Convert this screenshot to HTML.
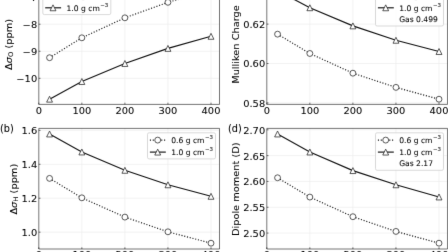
<!DOCTYPE html>
<html><head><meta charset="utf-8"><style>
html,body{margin:0;padding:0;background:#fff;overflow:hidden;width:448px;height:252px}
svg{display:block}
</style></head><body>
<svg width="448" height="252" viewBox="0 0 448 252" font-family="'DejaVu Sans','Liberation Sans',sans-serif">
<style>text{stroke:#000;stroke-width:0.05px}</style>
<rect width="448" height="252" fill="#fff"/>
<filter id="bl" x="-4" y="-4" width="456" height="260" filterUnits="userSpaceOnUse" color-interpolation-filters="sRGB"><feConvolveMatrix order="3" kernelMatrix="0 0.07 0 0.07 0.72 0.07 0 0.07 0" edgeMode="duplicate" preserveAlpha="true"/></filter>
<g filter="url(#bl)">
<rect x="-20" y="-20" width="488" height="292" fill="#fff"/>
<clipPath id="c0"><rect x="38.8" y="-16.2" width="180.7" height="120.6"/></clipPath>
<path d="M81.85 -16.2V104.4M124.9 -16.2V104.4M167.95 -16.2V104.4M211 -16.2V104.4M38.8 78.32H219.5M38.8 51.27H219.5M38.8 24.22H219.5M38.8 -2.83H219.5" stroke="#ececec" stroke-width="0.7" fill="none"/>
<g clip-path="url(#c0)">
<polyline points="49.56,57.71 81.85,37.8 124.9,17.81 167.95,2.31 211,-10.13" fill="none" stroke="#111" stroke-width="1.15" stroke-dasharray="1.1 1.73"/>
<polyline points="49.56,99.2 81.85,81.51 124.9,63.5 167.95,48.4 211,36.31" fill="none" stroke="#111" stroke-width="1.15"/>
<circle cx="49.56" cy="57.71" r="2.95" fill="#fff" stroke="#222" stroke-width="0.75"/>
<circle cx="81.85" cy="37.8" r="2.95" fill="#fff" stroke="#222" stroke-width="0.75"/>
<circle cx="124.9" cy="17.81" r="2.95" fill="#fff" stroke="#222" stroke-width="0.75"/>
<circle cx="167.95" cy="2.31" r="2.95" fill="#fff" stroke="#222" stroke-width="0.75"/>
<circle cx="211" cy="-10.13" r="2.95" fill="#fff" stroke="#222" stroke-width="0.75"/>
<path d="M49.56 96.25L46.61 102.15L52.51 102.15Z" fill="#fff" stroke="#222" stroke-width="0.75"/>
<path d="M81.85 78.56L78.9 84.46L84.8 84.46Z" fill="#fff" stroke="#222" stroke-width="0.75"/>
<path d="M124.9 60.55L121.95 66.45L127.85 66.45Z" fill="#fff" stroke="#222" stroke-width="0.75"/>
<path d="M167.95 45.45L165 51.35L170.9 51.35Z" fill="#fff" stroke="#222" stroke-width="0.75"/>
<path d="M211 33.36L208.05 39.26L213.95 39.26Z" fill="#fff" stroke="#222" stroke-width="0.75"/>
</g>
<path d="M38.8 -16.2H219.5V104.4H38.8ZM38.8 104.4v-1.7M81.85 104.4v-1.7M124.9 104.4v-1.7M167.95 104.4v-1.7M211 104.4v-1.7M38.8 78.32h1.7M38.8 51.27h1.7M38.8 24.22h1.7M38.8 -2.83h1.7" stroke="#000" stroke-width="0.55" fill="none"/>
<text transform="translate(38.8 114.4) scale(1 0.89)" font-size="9.9" text-anchor="middle" fill="#000">0</text>
<text transform="translate(81.85 114.4) scale(1 0.89)" font-size="9.9" text-anchor="middle" fill="#000">100</text>
<text transform="translate(124.9 114.4) scale(1 0.89)" font-size="9.9" text-anchor="middle" fill="#000">200</text>
<text transform="translate(167.95 114.4) scale(1 0.89)" font-size="9.9" text-anchor="middle" fill="#000">300</text>
<text transform="translate(211 114.4) scale(1 0.89)" font-size="9.9" text-anchor="middle" fill="#000">400</text>
<text transform="translate(37.2 82.22) scale(1 0.89)" font-size="9.9" text-anchor="end" fill="#000">−10</text>
<text transform="translate(37.2 55.17) scale(1 0.89)" font-size="9.9" text-anchor="end" fill="#000">−9</text>
<text transform="translate(37.2 28.12) scale(1 0.89)" font-size="9.9" text-anchor="end" fill="#000">−8</text>
<text transform="translate(37.2 1.07) scale(1 0.89)" font-size="9.9" text-anchor="end" fill="#000">−7</text>
<text transform="translate(12 44.5) rotate(-90) scale(1 0.93)" font-size="9.8" text-anchor="middle" fill="#000">Δ<tspan font-style="italic">σ</tspan><tspan font-size="6.86" dy="1.6">O</tspan><tspan dy="-1.6"> (ppm)</tspan></text>
<text transform="translate(-0 -12.6)" font-size="9.7" text-anchor="start" fill="#000">(a)</text>
<rect x="42.8" y="-12.4" width="68" height="27" rx="1.6" fill="#fff" fill-opacity="0.8" stroke="#cfcfcf" stroke-width="0.8"/>
<path d="M45.2 -5.1H61.1" stroke="#111" stroke-width="1.15" stroke-dasharray="1.1 1.73"/>
<circle cx="53" cy="-5.1" r="2.95" fill="#fff" stroke="#222" stroke-width="0.75"/>
<text transform="translate(66.5 -2.33)" font-size="7.6" text-anchor="start" fill="#000">0.6 g cm<tspan font-size="5.47" dx="0.4" dy="-3.4">−3</tspan></text>
<path d="M45.2 7.8H61.1" stroke="#111" stroke-width="1.15"/>
<path d="M53 4.85L50.05 10.75L55.95 10.75Z" fill="#fff" stroke="#222" stroke-width="0.75"/>
<text transform="translate(66.5 10.57)" font-size="7.6" text-anchor="start" fill="#000">1.0 g cm<tspan font-size="5.47" dx="0.4" dy="-3.4">−3</tspan></text>
<clipPath id="c1"><rect x="266.8" y="-16.2" width="180.7" height="120.6"/></clipPath>
<path d="M309.85 -16.2V104.4M352.9 -16.2V104.4M395.95 -16.2V104.4M439 -16.2V104.4M266.8 102.95H447.5M266.8 63.53H447.5M266.8 24.11H447.5M266.8 -15.31H447.5" stroke="#ececec" stroke-width="0.7" fill="none"/>
<g clip-path="url(#c1)">
<polyline points="277.56,34.16 309.85,53.48 352.9,73.19 395.95,87.38 439,99.21" fill="none" stroke="#111" stroke-width="1.15" stroke-dasharray="1.1 1.73"/>
<polyline points="277.56,-9.4 309.85,7.75 352.9,25.88 395.95,40.27 439,51.51" fill="none" stroke="#111" stroke-width="1.15"/>
<circle cx="277.56" cy="34.16" r="2.95" fill="#fff" stroke="#222" stroke-width="0.75"/>
<circle cx="309.85" cy="53.48" r="2.95" fill="#fff" stroke="#222" stroke-width="0.75"/>
<circle cx="352.9" cy="73.19" r="2.95" fill="#fff" stroke="#222" stroke-width="0.75"/>
<circle cx="395.95" cy="87.38" r="2.95" fill="#fff" stroke="#222" stroke-width="0.75"/>
<circle cx="439" cy="99.21" r="2.95" fill="#fff" stroke="#222" stroke-width="0.75"/>
<path d="M277.56 -12.35L274.61 -6.45L280.51 -6.45Z" fill="#fff" stroke="#222" stroke-width="0.75"/>
<path d="M309.85 4.8L306.9 10.7L312.8 10.7Z" fill="#fff" stroke="#222" stroke-width="0.75"/>
<path d="M352.9 22.93L349.95 28.83L355.85 28.83Z" fill="#fff" stroke="#222" stroke-width="0.75"/>
<path d="M395.95 37.32L393 43.22L398.9 43.22Z" fill="#fff" stroke="#222" stroke-width="0.75"/>
<path d="M439 48.56L436.05 54.46L441.95 54.46Z" fill="#fff" stroke="#222" stroke-width="0.75"/>
</g>
<path d="M266.8 -16.2H447.5V104.4H266.8ZM266.8 104.4v-1.7M309.85 104.4v-1.7M352.9 104.4v-1.7M395.95 104.4v-1.7M439 104.4v-1.7M266.8 102.95h1.7M266.8 63.53h1.7M266.8 24.11h1.7M266.8 -15.31h1.7" stroke="#000" stroke-width="0.55" fill="none"/>
<text transform="translate(266.8 114.4) scale(1 0.89)" font-size="9.9" text-anchor="middle" fill="#000">0</text>
<text transform="translate(309.85 114.4) scale(1 0.89)" font-size="9.9" text-anchor="middle" fill="#000">100</text>
<text transform="translate(352.9 114.4) scale(1 0.89)" font-size="9.9" text-anchor="middle" fill="#000">200</text>
<text transform="translate(395.95 114.4) scale(1 0.89)" font-size="9.9" text-anchor="middle" fill="#000">300</text>
<text transform="translate(439 114.4) scale(1 0.89)" font-size="9.9" text-anchor="middle" fill="#000">400</text>
<text transform="translate(265.2 106.85) scale(1 0.89)" font-size="9.9" text-anchor="end" fill="#000">0.58</text>
<text transform="translate(265.2 67.43) scale(1 0.89)" font-size="9.9" text-anchor="end" fill="#000">0.60</text>
<text transform="translate(265.2 28.01) scale(1 0.89)" font-size="9.9" text-anchor="end" fill="#000">0.62</text>
<text transform="translate(265.2 -11.41) scale(1 0.89)" font-size="9.9" text-anchor="end" fill="#000">0.64</text>
<text transform="translate(239.3 44.5) rotate(-90) scale(1 0.93)" font-size="9.8" text-anchor="middle" fill="#000">Mulliken Charge</text>
<text transform="translate(228 -12.6)" font-size="9.7" text-anchor="start" fill="#000">(c)</text>
<rect x="375.5" y="-12.4" width="68" height="38.4" rx="1.6" fill="#fff" fill-opacity="0.8" stroke="#cfcfcf" stroke-width="0.8"/>
<path d="M377.9 -5.1H393.8" stroke="#111" stroke-width="1.15" stroke-dasharray="1.1 1.73"/>
<circle cx="385.7" cy="-5.1" r="2.95" fill="#fff" stroke="#222" stroke-width="0.75"/>
<text transform="translate(399.2 -2.33)" font-size="7.6" text-anchor="start" fill="#000">0.6 g cm<tspan font-size="5.47" dx="0.4" dy="-3.4">−3</tspan></text>
<path d="M377.9 7.8H393.8" stroke="#111" stroke-width="1.15"/>
<path d="M385.7 4.85L382.75 10.75L388.65 10.75Z" fill="#fff" stroke="#222" stroke-width="0.75"/>
<text transform="translate(399.2 10.57)" font-size="7.6" text-anchor="start" fill="#000">1.0 g cm<tspan font-size="5.47" dx="0.4" dy="-3.4">−3</tspan></text>
<text transform="translate(399.2 21.77)" font-size="7.6" text-anchor="start" fill="#000">Gas 0.499</text>
<clipPath id="c2"><rect x="38.8" y="128.4" width="180.7" height="120.6"/></clipPath>
<path d="M81.85 128.4V249M124.9 128.4V249M167.95 128.4V249M211 128.4V249M38.8 232.17H219.5M38.8 198.23H219.5M38.8 164.29H219.5M38.8 130.35H219.5" stroke="#ececec" stroke-width="0.7" fill="none"/>
<g clip-path="url(#c2)">
<polyline points="49.56,178.39 81.85,197.81 124.9,217.1 167.95,231.8 211,243.2" fill="none" stroke="#111" stroke-width="1.15" stroke-dasharray="1.1 1.73"/>
<polyline points="49.56,134 81.85,152 124.9,170.3 167.95,184.81 211,196.3" fill="none" stroke="#111" stroke-width="1.15"/>
<circle cx="49.56" cy="178.39" r="2.95" fill="#fff" stroke="#222" stroke-width="0.75"/>
<circle cx="81.85" cy="197.81" r="2.95" fill="#fff" stroke="#222" stroke-width="0.75"/>
<circle cx="124.9" cy="217.1" r="2.95" fill="#fff" stroke="#222" stroke-width="0.75"/>
<circle cx="167.95" cy="231.8" r="2.95" fill="#fff" stroke="#222" stroke-width="0.75"/>
<circle cx="211" cy="243.2" r="2.95" fill="#fff" stroke="#222" stroke-width="0.75"/>
<path d="M49.56 131.05L46.61 136.95L52.51 136.95Z" fill="#fff" stroke="#222" stroke-width="0.75"/>
<path d="M81.85 149.05L78.9 154.95L84.8 154.95Z" fill="#fff" stroke="#222" stroke-width="0.75"/>
<path d="M124.9 167.35L121.95 173.25L127.85 173.25Z" fill="#fff" stroke="#222" stroke-width="0.75"/>
<path d="M167.95 181.86L165 187.76L170.9 187.76Z" fill="#fff" stroke="#222" stroke-width="0.75"/>
<path d="M211 193.35L208.05 199.25L213.95 199.25Z" fill="#fff" stroke="#222" stroke-width="0.75"/>
</g>
<path d="M38.8 128.4H219.5V249H38.8ZM38.8 249v-1.7M81.85 249v-1.7M124.9 249v-1.7M167.95 249v-1.7M211 249v-1.7M38.8 232.17h1.7M38.8 198.23h1.7M38.8 164.29h1.7M38.8 130.35h1.7" stroke="#000" stroke-width="0.55" fill="none"/>
<text transform="translate(38.8 257.8) scale(1 0.89)" font-size="9.9" text-anchor="middle" fill="#000">0</text>
<text transform="translate(81.85 257.8) scale(1 0.89)" font-size="9.9" text-anchor="middle" fill="#000">100</text>
<text transform="translate(124.9 257.8) scale(1 0.89)" font-size="9.9" text-anchor="middle" fill="#000">200</text>
<text transform="translate(167.95 257.8) scale(1 0.89)" font-size="9.9" text-anchor="middle" fill="#000">300</text>
<text transform="translate(211 257.8) scale(1 0.89)" font-size="9.9" text-anchor="middle" fill="#000">400</text>
<text transform="translate(37.2 236.07) scale(1 0.89)" font-size="9.9" text-anchor="end" fill="#000">1.0</text>
<text transform="translate(37.2 202.13) scale(1 0.89)" font-size="9.9" text-anchor="end" fill="#000">1.2</text>
<text transform="translate(37.2 168.19) scale(1 0.89)" font-size="9.9" text-anchor="end" fill="#000">1.4</text>
<text transform="translate(37.2 134.25) scale(1 0.89)" font-size="9.9" text-anchor="end" fill="#000">1.6</text>
<text transform="translate(16.7 189.2) rotate(-90) scale(1 0.93)" font-size="9.8" text-anchor="middle" fill="#000">Δ<tspan font-style="italic">σ</tspan><tspan font-size="6.86" dy="1.6">H</tspan><tspan dy="-1.6"> (ppm)</tspan></text>
<text transform="translate(-0 132)" font-size="9.7" text-anchor="start" fill="#000">(b)</text>
<rect x="147.5" y="132.8" width="68" height="26.1" rx="1.6" fill="#fff" fill-opacity="0.8" stroke="#cfcfcf" stroke-width="0.8"/>
<path d="M149.9 140.1H165.8" stroke="#111" stroke-width="1.15" stroke-dasharray="1.1 1.73"/>
<circle cx="157.7" cy="140.1" r="2.95" fill="#fff" stroke="#222" stroke-width="0.75"/>
<text transform="translate(171.2 142.87)" font-size="7.6" text-anchor="start" fill="#000">0.6 g cm<tspan font-size="5.47" dx="0.4" dy="-3.4">−3</tspan></text>
<path d="M149.9 152.1H165.8" stroke="#111" stroke-width="1.15"/>
<path d="M157.7 149.15L154.75 155.05L160.65 155.05Z" fill="#fff" stroke="#222" stroke-width="0.75"/>
<text transform="translate(171.2 154.87)" font-size="7.6" text-anchor="start" fill="#000">1.0 g cm<tspan font-size="5.47" dx="0.4" dy="-3.4">−3</tspan></text>
<clipPath id="c3"><rect x="266.8" y="128.4" width="180.7" height="120.6"/></clipPath>
<path d="M309.85 128.4V249M352.9 128.4V249M395.95 128.4V249M439 128.4V249M266.8 233.07H447.5M266.8 207.26H447.5M266.8 181.44H447.5M266.8 155.63H447.5M266.8 129.81H447.5" stroke="#ececec" stroke-width="0.7" fill="none"/>
<g clip-path="url(#c3)">
<polyline points="277.56,177.77 309.85,197.08 352.9,216.7 395.95,231.42 439,243.19" fill="none" stroke="#111" stroke-width="1.15" stroke-dasharray="1.1 1.73"/>
<polyline points="277.56,133.99 309.85,152.01 352.9,170.6 395.95,184.8 439,196.98" fill="none" stroke="#111" stroke-width="1.15"/>
<circle cx="277.56" cy="177.77" r="2.95" fill="#fff" stroke="#222" stroke-width="0.75"/>
<circle cx="309.85" cy="197.08" r="2.95" fill="#fff" stroke="#222" stroke-width="0.75"/>
<circle cx="352.9" cy="216.7" r="2.95" fill="#fff" stroke="#222" stroke-width="0.75"/>
<circle cx="395.95" cy="231.42" r="2.95" fill="#fff" stroke="#222" stroke-width="0.75"/>
<circle cx="439" cy="243.19" r="2.95" fill="#fff" stroke="#222" stroke-width="0.75"/>
<path d="M277.56 131.04L274.61 136.94L280.51 136.94Z" fill="#fff" stroke="#222" stroke-width="0.75"/>
<path d="M309.85 149.06L306.9 154.96L312.8 154.96Z" fill="#fff" stroke="#222" stroke-width="0.75"/>
<path d="M352.9 167.65L349.95 173.55L355.85 173.55Z" fill="#fff" stroke="#222" stroke-width="0.75"/>
<path d="M395.95 181.85L393 187.75L398.9 187.75Z" fill="#fff" stroke="#222" stroke-width="0.75"/>
<path d="M439 194.03L436.05 199.93L441.95 199.93Z" fill="#fff" stroke="#222" stroke-width="0.75"/>
</g>
<path d="M266.8 128.4H447.5V249H266.8ZM266.8 249v-1.7M309.85 249v-1.7M352.9 249v-1.7M395.95 249v-1.7M439 249v-1.7M266.8 233.07h1.7M266.8 207.26h1.7M266.8 181.44h1.7M266.8 155.63h1.7M266.8 129.81h1.7" stroke="#000" stroke-width="0.55" fill="none"/>
<text transform="translate(266.8 257.8) scale(1 0.89)" font-size="9.9" text-anchor="middle" fill="#000">0</text>
<text transform="translate(309.85 257.8) scale(1 0.89)" font-size="9.9" text-anchor="middle" fill="#000">100</text>
<text transform="translate(352.9 257.8) scale(1 0.89)" font-size="9.9" text-anchor="middle" fill="#000">200</text>
<text transform="translate(395.95 257.8) scale(1 0.89)" font-size="9.9" text-anchor="middle" fill="#000">300</text>
<text transform="translate(439 257.8) scale(1 0.89)" font-size="9.9" text-anchor="middle" fill="#000">400</text>
<text transform="translate(265.2 236.97) scale(1 0.89)" font-size="9.9" text-anchor="end" fill="#000">2.50</text>
<text transform="translate(265.2 211.16) scale(1 0.89)" font-size="9.9" text-anchor="end" fill="#000">2.55</text>
<text transform="translate(265.2 185.34) scale(1 0.89)" font-size="9.9" text-anchor="end" fill="#000">2.60</text>
<text transform="translate(265.2 159.53) scale(1 0.89)" font-size="9.9" text-anchor="end" fill="#000">2.65</text>
<text transform="translate(265.2 133.71) scale(1 0.89)" font-size="9.9" text-anchor="end" fill="#000">2.70</text>
<text transform="translate(239.3 189.2) rotate(-90) scale(1 0.93)" font-size="9.8" text-anchor="middle" fill="#000">Dipole moment (D)</text>
<text transform="translate(228 132)" font-size="9.7" text-anchor="start" fill="#000">(d)</text>
<rect x="375.5" y="132.8" width="68" height="37.5" rx="1.6" fill="#fff" fill-opacity="0.8" stroke="#cfcfcf" stroke-width="0.8"/>
<path d="M377.9 140.1H393.8" stroke="#111" stroke-width="1.15" stroke-dasharray="1.1 1.73"/>
<circle cx="385.7" cy="140.1" r="2.95" fill="#fff" stroke="#222" stroke-width="0.75"/>
<text transform="translate(399.2 142.87)" font-size="7.6" text-anchor="start" fill="#000">0.6 g cm<tspan font-size="5.47" dx="0.4" dy="-3.4">−3</tspan></text>
<path d="M377.9 152.1H393.8" stroke="#111" stroke-width="1.15"/>
<path d="M385.7 149.15L382.75 155.05L388.65 155.05Z" fill="#fff" stroke="#222" stroke-width="0.75"/>
<text transform="translate(399.2 154.87)" font-size="7.6" text-anchor="start" fill="#000">1.0 g cm<tspan font-size="5.47" dx="0.4" dy="-3.4">−3</tspan></text>
<text transform="translate(399.2 166.07)" font-size="7.6" text-anchor="start" fill="#000">Gas 2.17</text>
</g>
</svg>
</body></html>
